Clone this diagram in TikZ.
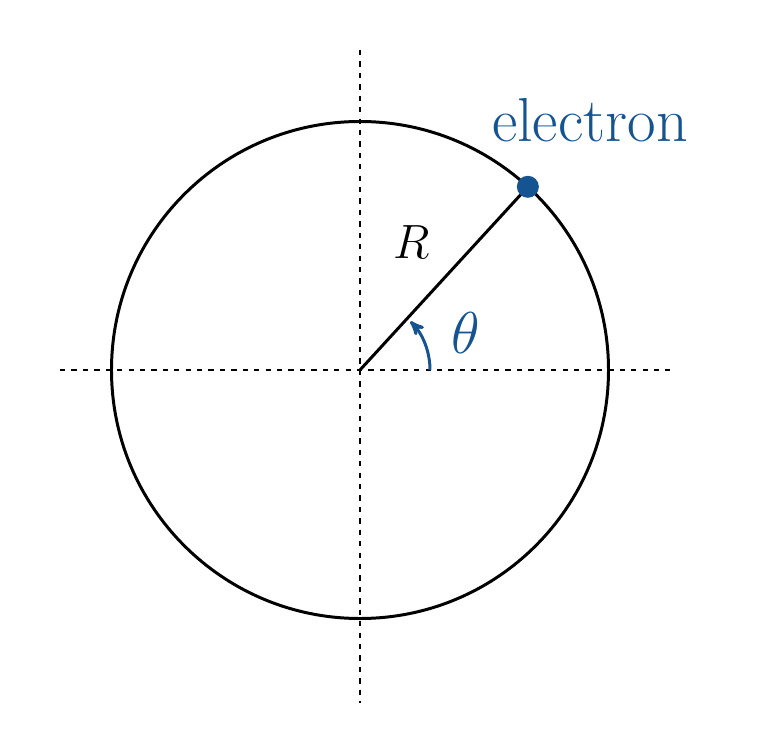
\documentclass[tikz,border=0pt]{standalone}
\usetikzlibrary{arrows}
\definecolor{eblue}{RGB}{22,84,145}
\begin{document}
\begin{tikzpicture}[>=stealth',line width=1.7pt,
                    font=\fontsize{29}{34}\selectfont]
  \tikzstyle{axis}=[dash pattern=on 3pt off 3.5pt,line width=1.6pt]
  \useasboundingbox (-7.2,-7.64) rectangle (8.28,7.4);

  \coordinate (O) at (0,0);
  \coordinate (E) at (47.5:4.97);

  \draw (O) circle (4.97);
  \draw[axis] (-6,0) -- (6.2,0);
  \draw[axis] (0,6.4) -- (0,-6.65);
  \draw (O) -- (E);
  \draw[->,eblue] (1.4,0) arc (0:44:1.4);

  \fill[eblue] (E) circle (0.22);
  \node[text=eblue,scale=1.22] (el) at (4.6,5.0) {electron};
  \node[scale=1.1] (rad) at (1.04,2.56) {$R$};
  \node[text=eblue,scale=1.35] (th) at (2.12,0.74) {$\theta$};
\end{tikzpicture}
\end{document}
